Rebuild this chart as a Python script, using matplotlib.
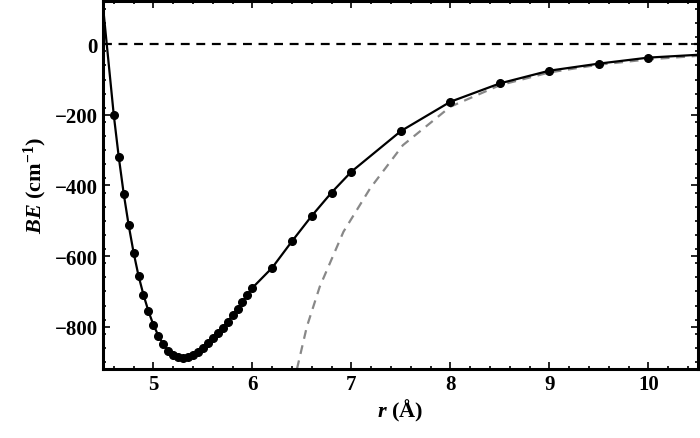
import matplotlib
matplotlib.use("Agg")
import matplotlib.pyplot as plt

plt.rcParams['font.family'] = ['Liberation Serif']
plt.rcParams['font.weight'] = 'bold'
plt.rcParams['mathtext.fontset'] = 'custom'
plt.rcParams['mathtext.it'] = 'Liberation Serif:italic:bold'
plt.rcParams['mathtext.rm'] = 'Liberation Serif:bold'
plt.rcParams['mathtext.bf'] = 'Liberation Serif:bold'

r_pts = [4.60, 4.65, 4.70, 4.75, 4.80, 4.85, 4.90, 4.95, 5.00, 5.05, 5.10, 5.15, 5.20,
         5.25, 5.30, 5.35, 5.40, 5.45, 5.50, 5.55, 5.60, 5.65, 5.70, 5.75, 5.80, 5.85,
         5.90, 5.95, 6.00, 6.2, 6.4, 6.6, 6.8, 7.0, 7.5, 8.0, 8.5, 9.0, 9.5, 10.0]
be_pts = [-201, -319, -423, -512, -590, -656, -710, -756, -795, -825, -850, -869, -880,
          -886, -888, -886, -880, -871, -859, -847, -833, -819, -803, -786, -767, -750,
          -729, -710, -690, -633, -558, -486, -420, -361, -246, -163, -111, -75, -55, -38]

# fit curve end values (beyond the points)
r_start, be_start = 4.49, 110
r_end, be_end = 10.5, -30

# long-range asymptotic curve (gray dashed)
r_lr = [6.45, 6.55, 6.68, 6.92, 7.19, 7.52, 8.0, 8.5, 9.0, 9.5, 10.0, 10.5]
be_lr = [-920, -800, -687, -531, -408, -286, -177, -116, -80, -58, -43, -33]

fig = plt.figure(figsize=(7, 4.39), dpi=100)
ax = fig.add_axes([0.147, 0.157, 0.85, 0.839])

ax.axhline(0, color='black', ls=(0, (4, 3)), lw=1.6)
ax.plot(r_lr, be_lr, color='#888888', ls=(0, (4, 3)), lw=1.6)
ax.plot([r_start] + r_pts + [r_end], [be_start] + be_pts + [be_end], color='black', lw=1.6)
ax.plot(r_pts, be_pts, 'o', color='black', ms=5.5)

ax.set_xlim(4.49, 10.5)
ax.set_ylim(-920, 123)
ax.set_xticks([5, 6, 7, 8, 9, 10])
ax.set_yticks([0, -200, -400, -600, -800])
ax.set_yticklabels(['0', '\u2212200', '\u2212400', '\u2212600', '\u2212800'])
ax.set_xticks([x / 5 for x in range(23, 53)], minor=True)
ax.set_yticks(list(range(-900, 121, 40)), minor=True)
ax.tick_params(which='both', direction='in', top=True, right=True, labelsize=15, width=1.2)
ax.tick_params(which='major', length=5)
ax.tick_params(which='minor', length=2.5)
for s in ax.spines.values():
    s.set_linewidth(2.2)
ax.set_xlabel(r'$r$ (Å)', fontsize=16, fontweight='bold', labelpad=2)
ax.set_ylabel(r'$BE$ (cm$^{-1}$)', fontsize=16, fontweight='bold', labelpad=4)

fig.savefig('out.png', dpi=100)
